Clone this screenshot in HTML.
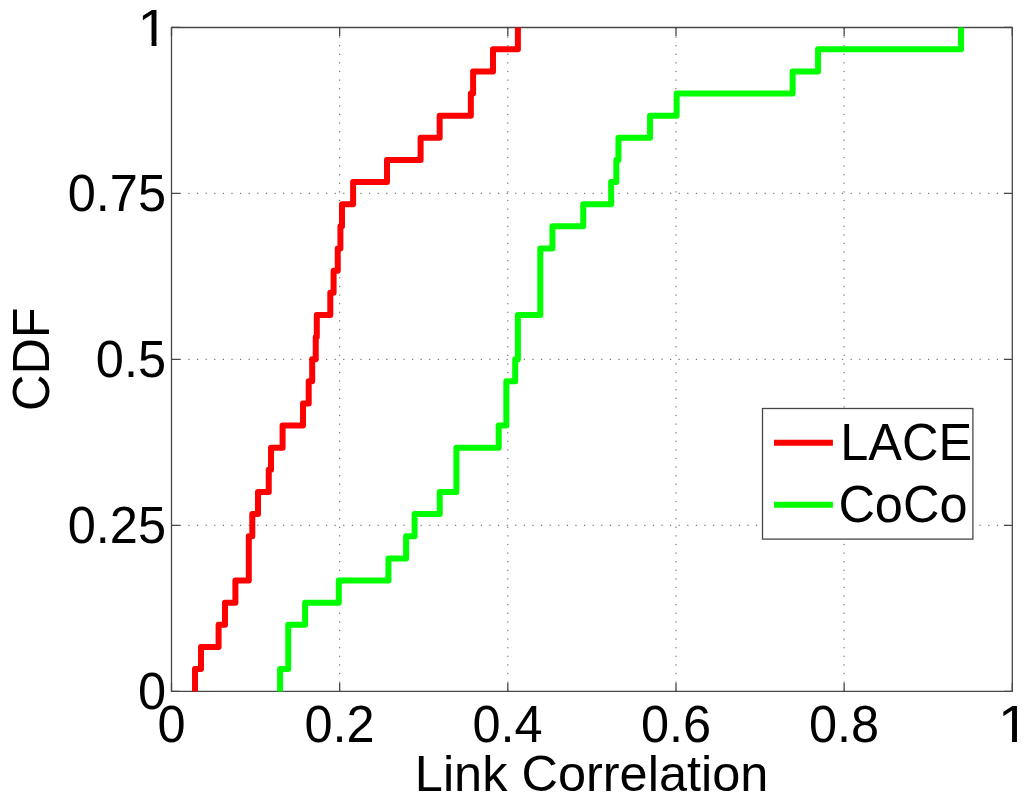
<!DOCTYPE html>
<html><head><meta charset="utf-8"><title>CDF of Link Correlation</title>
<style>
html,body{margin:0;padding:0;background:#fff;}
body{width:1024px;height:800px;overflow:hidden;}
svg{display:block;}
text{font-family:"Liberation Sans",Arial,Helvetica,sans-serif;font-size:50.5px;fill:#000;}
.g{stroke:#555;stroke-width:1.0;stroke-dasharray:1.2 7.4;stroke-dashoffset:0.3;fill:none;}
.gv{stroke-dashoffset:-0.1;}
.c{fill:none;stroke-width:6;stroke-linejoin:round;stroke-linecap:butt;}
</style></head>
<body>
<svg width="1024" height="800" viewBox="0 0 1024 800">
<defs><clipPath id="cy1"><rect x="0" y="0" width="1024" height="40.81"/><rect x="151.55" y="0" width="4.92" height="800"/></clipPath><clipPath id="cx1"><rect x="0" y="0" width="1024" height="737.51"/><rect x="1012.05" y="0" width="4.94" height="800"/></clipPath><clipPath id="ax"><rect x="171.5" y="27.5" width="840.80" height="663.90"/></clipPath></defs>
<rect x="0" y="0" width="1024" height="800" fill="#fff"/>
<line x1="339.66" y1="691.40" x2="339.66" y2="27.50" class="g gv"/>
<line x1="507.82" y1="691.40" x2="507.82" y2="27.50" class="g gv"/>
<line x1="675.98" y1="691.40" x2="675.98" y2="27.50" class="g gv"/>
<line x1="844.14" y1="691.40" x2="844.14" y2="27.50" class="g gv"/>
<line x1="171.50" y1="525.30" x2="1012.30" y2="525.30" class="g"/>
<line x1="171.50" y1="359.30" x2="1012.30" y2="359.30" class="g"/>
<line x1="171.50" y1="193.30" x2="1012.30" y2="193.30" class="g"/>
<path d="M171.50 691.40 v-8.4 M171.50 27.50 v8.4 M339.66 691.40 v-8.4 M339.66 27.50 v8.4 M507.82 691.40 v-8.4 M507.82 27.50 v8.4 M675.98 691.40 v-8.4 M675.98 27.50 v8.4 M844.14 691.40 v-8.4 M844.14 27.50 v8.4 M1012.30 691.40 v-8.4 M1012.30 27.50 v8.4 M171.50 691.30 h8.4 M1012.30 691.30 h-8.4 M171.50 525.30 h8.4 M1012.30 525.30 h-8.4 M171.50 359.30 h8.4 M1012.30 359.30 h-8.4 M171.50 193.30 h8.4 M1012.30 193.30 h-8.4 M171.50 27.30 h8.4 M1012.30 27.30 h-8.4" stroke="#474747" stroke-width="1.3" fill="none"/>
<rect x="171.5" y="27.5" width="840.80" height="663.90" fill="none" stroke="#474747" stroke-width="1.3" stroke-linejoin="round"/>
<g clip-path="url(#ax)">
<path class="c" stroke="#ff0000" d="M195.00 701.40 V669.07 H201.00 V646.93 H218.60 V624.80 H225.00 V602.66 H235.40 V580.53 H248.80 V536.25 H252.30 V514.12 H258.00 V491.99 H268.75 V469.85 H271.00 V447.72 H282.60 V425.58 H303.00 V403.44 H308.70 V381.31 H312.20 V359.18 H315.75 V337.04 H316.80 V314.91 H330.30 V292.77 H333.60 V270.64 H337.75 V248.50 H340.40 V226.37 H342.00 V204.23 H353.10 V182.09 H387.00 V159.96 H420.60 V137.83 H439.65 V115.69 H470.85 V93.55 H473.10 V71.42 H493.00 V49.28 H517.90 V27.15 V17.50"/>
<path class="c" stroke="#00ff00" d="M280.10 701.40 V669.07 H288.25 V624.80 H305.10 V602.66 H338.80 V580.53 H388.45 V558.39 H406.10 V536.25 H414.60 V514.12 H439.75 V491.99 H456.40 V447.72 H498.70 V425.58 H506.35 V381.31 H515.20 V359.18 H517.90 V314.91 H540.30 V248.50 H552.45 V226.37 H583.25 V204.23 H611.15 V182.09 H616.35 V159.96 H618.45 V137.83 H650.05 V115.69 H676.65 V93.55 H792.65 V71.42 H818.05 V49.28 H961.05 V27.15 V17.50"/>
</g>
<g clip-path="url(#cy1)"><text transform="translate(137.60 45.50) scale(1.1060 1.0300)" text-anchor="start">1</text></g>
<text transform="translate(166.00 211.30) scale(1.0000 1.0300)" text-anchor="end">0.75</text>
<text transform="translate(166.00 377.00) scale(1.0000 1.0300)" text-anchor="end">0.5</text>
<text transform="translate(166.00 543.10) scale(1.0000 1.0300)" text-anchor="end">0.25</text>
<text transform="translate(166.00 709.30) scale(1.0000 1.0300)" text-anchor="end">0</text>
<text transform="translate(171.50 742.00) scale(1.0000 1.0300)" text-anchor="middle">0</text>
<text transform="translate(339.50 742.00) scale(1.0000 1.0300)" text-anchor="middle">0.2</text>
<text transform="translate(507.50 742.00) scale(1.0000 1.0300)" text-anchor="middle">0.4</text>
<text transform="translate(676.00 742.00) scale(1.0000 1.0300)" text-anchor="middle">0.6</text>
<text transform="translate(844.00 742.00) scale(1.0000 1.0300)" text-anchor="middle">0.8</text>
<g clip-path="url(#cx1)"><text transform="translate(998.00 742.20) scale(1.1060 1.0300)" text-anchor="start">1</text></g>
<text transform="translate(591.60 790.90) scale(1.0000 0.9900)" text-anchor="middle">Link Correlation</text>
<text transform="translate(48.70 359.20) rotate(-90) scale(1.0000 1.0300)" text-anchor="middle">CDF</text>
<rect x="762.5" y="408.5" width="210.4" height="130.6" fill="#fff" stroke="#474747" stroke-width="1.3"/>
<line x1="774" y1="442.7" x2="832.9" y2="442.7" stroke="#ff0000" stroke-width="5.9"/>
<line x1="774" y1="504.8" x2="832.9" y2="504.8" stroke="#00ff00" stroke-width="5.9"/>
<text transform="translate(840.26 460.10) scale(1.0000 1.0300)" text-anchor="start">LACE</text>
<text transform="translate(838.40 522.40) scale(1.0000 1.0300)" text-anchor="start">CoCo</text>
</svg>
</body></html>
